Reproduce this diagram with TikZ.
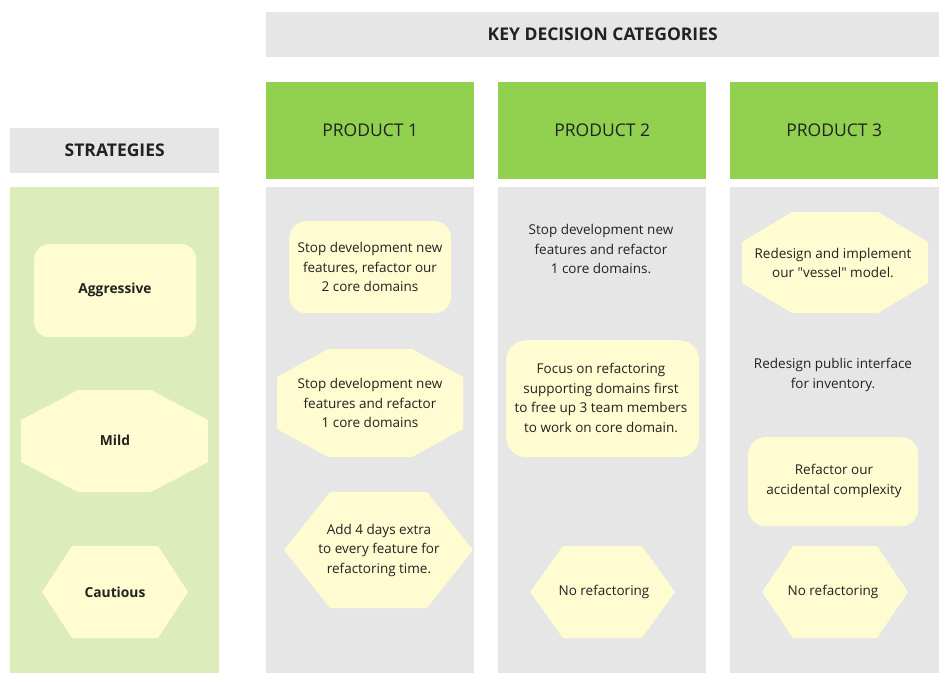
\documentclass[tikz,border=0pt]{standalone}
\usepackage{fontspec}
\setmainfont{Open Sans}
\definecolor{hdrgray}{HTML}{E6E6E6}
\definecolor{colgray}{HTML}{E6E6E6}
\definecolor{prodgreen}{HTML}{92D050}
\definecolor{litegreen}{HTML}{DCEDB9}
\definecolor{paleyel}{HTML}{FEFCD0}
\definecolor{ink}{HTML}{222222}
\newcommand\octfill[6]{\fill[paleyel] ({#1+#5},#2) -- ({#3-#5},#2) -- (#3,{#2+#6}) -- (#3,{#4-#6}) -- ({#3-#5},#4) -- ({#1+#5},#4) -- (#1,{#4-#6}) -- (#1,{#2+#6}) -- cycle;}
\newcommand\hexfill[5]{\fill[paleyel] ({#1+#5},#2) -- ({#3-#5},#2) -- (#3,{(#2+#4)/2}) -- ({#3-#5},#4) -- ({#1+#5},#4) -- (#1,{(#2+#4)/2}) -- cycle;}
\begin{document}
\begin{tikzpicture}[x=1pt,y=-1pt,
  txt/.style={text=ink,font=\fontsize{13.5}{19.5}\selectfont,align=center,inner sep=0pt},
  btxt/.style={text=ink,font=\fontsize{13.8}{19.5}\selectfont\bfseries,align=center,inner sep=0pt},
  hdr/.style={fill=hdrgray,text=ink,font=\fontsize{17.5}{20}\selectfont\bfseries,inner sep=0pt,anchor=north west},
  prod/.style={fill=prodgreen,text=ink,font=\fontsize{17.5}{20}\selectfont,inner sep=0pt,anchor=north west,minimum width=208pt,minimum height=97pt},
  column/.style={inner sep=0pt,anchor=north west,minimum width=208pt,minimum height=486pt},
  rbox/.style={fill=paleyel,rounded corners=#1,inner sep=0pt,anchor=north west},
  rbox/.default=16pt]
\useasboundingbox (0,0) rectangle (948,681);
\fill[white] (0,0) rectangle (948,681);

% headers
\node[hdr,minimum width=673pt,minimum height=45pt] (key) at (266,12) {KEY DECISION CATEGORIES};
\node[hdr,minimum width=209pt,minimum height=45pt] (strat) at (10,128) {STRATEGIES};
\node[prod] (p1) at (266,82) {PRODUCT 1};
\node[prod] (p2) at (498,82) {PRODUCT 2};
\node[prod] (p3) at (730,82) {PRODUCT 3};

% columns
\node[column,fill=litegreen,minimum width=209pt] (cs) at (10,187) {};
\node[column,fill=colgray] (c1) at (266,187) {};
\node[column,fill=colgray] (c2) at (498,187) {};
\node[column,fill=colgray,minimum width=209pt] (c3) at (730,187) {};

% strategies
\node[rbox=15pt,minimum width=162pt,minimum height=93pt] (aggbox) at (34,244) {};
\node[btxt] (agg) at (115,290) {Aggressive};
\octfill{21}{390}{208}{492}{57}{30}
\node[btxt] (mild) at (115,440) {Mild};
\hexfill{42}{546}{188}{638}{30}
\node[btxt] (caut) at (115,592) {Cautious};

% product 1
\node[rbox=17pt,minimum width=162pt,minimum height=92pt] (p1abox) at (289,221) {};
\node[txt] (p1a) at (370,267) {Stop development new\\features, refactor our\\2 core domains};
\octfill{277}{349}{463}{457}{51}{28}
\node[txt] (p1b) at (370,403) {Stop development new\\features and refactor\\1 core domains};
\hexfill{284}{492}{473}{608}{46}
\node[txt] (p1c) at (379,550) {Add 4 days extra\\to every feature for\\refactoring time.};

% product 2
\node[txt] (p2a) at (601,249) {Stop development new\\features and refactor\\1 core domains.};
\node[rbox=20pt,minimum width=193pt,minimum height=117pt] (p2bbox) at (506,340) {};
\node[txt] (p2b) at (601,398) {Focus on refactoring\\supporting domains first\\to free up 3 team members\\to work on core domain.};
\hexfill{530}{546}{675}{638}{33}
\node[txt] (p2c) at (604,592) {No refactoring};

% product 3
\octfill{742}{212}{928}{313}{50}{30}
\node[txt] (p3a) at (833,263) {Redesign and implement\\our \textquotedbl vessel\textquotedbl\ model.};
\node[txt] (p3b) at (833,375) {Redesign public interface\\for inventory.};
\node[rbox=17pt,minimum width=170pt,minimum height=89pt] (p3cbox) at (748,437) {};
\node[txt] (p3c) at (834,481) {Refactor our\\accidental complexity};
\hexfill{762}{546}{908}{638}{31}
\node[txt] (p3d) at (833,592) {No refactoring};
\end{tikzpicture}
\end{document}
